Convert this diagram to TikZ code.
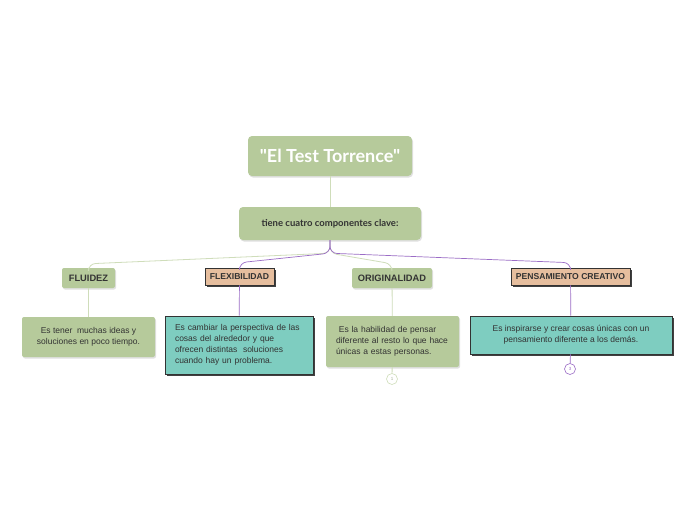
\documentclass[tikz,border=0pt]{standalone}
\usepackage{fontspec}
\setsansfont{Liberation Sans}
\newfontfamily\titlefont{Lato}
\usetikzlibrary{calc,shadows}
\definecolor{sage}{HTML}{B6CA9B}
\definecolor{sageline}{HTML}{CFDDBA}
\definecolor{peach}{HTML}{E6BE9E}
\definecolor{tealbox}{HTML}{7ECDC0}
\definecolor{lilac}{HTML}{9B6DC6}
\definecolor{ink}{HTML}{333333}
\begin{document}
\begin{tikzpicture}[x=1pt,y=-1pt,
  every node/.style={font=\sffamily\fontsize{8.5}{11}\selectfont,text=ink,inner sep=0pt},
  soft/.style={fill=sage,draw=none,rounded corners=4pt,drop shadow={shadow xshift=1pt,shadow yshift=-1.5pt,fill=black!12,opacity=1}},
  hard/.style={draw=ink,line width=.6pt,drop shadow={shadow xshift=2pt,shadow yshift=-2pt,fill=black!75,opacity=1}},
  catg/.style={font=\sffamily\bfseries\fontsize{9.3}{10}\selectfont},
  catp/.style={font=\sffamily\bfseries\fontsize{8.6}{10}\selectfont},
  gline/.style={draw=sageline,line width=.8pt,rounded corners=7pt},
  pline/.style={draw=lilac,line width=.7pt,rounded corners=7pt},
  badge/.style={circle,draw,fill=white,minimum size=11pt,line width=.6pt,font=\sffamily\fontsize{4.5}{4.5}\selectfont}]
\useasboundingbox[fill=white] (0,0) rectangle (696,520);
\node[soft,minimum width=164,minimum height=40,font=\titlefont\bfseries\fontsize{18}{20}\selectfont,text=white] (title) at (330,156) {"El Test Torrence"};
\node[soft,minimum width=182,minimum height=33,font=\titlefont\bfseries\fontsize{9.5}{11}\selectfont] (sub) at (330,223.5) {tiene cuatro componentes clave:};
\node[soft,catg,rounded corners=2pt,minimum width=53,minimum height=20] (flu) at (88.5,278) {FLUIDEZ};
\node[hard,catp,fill=peach,minimum width=69,minimum height=17] (flex) at (239.5,276.5) {FLEXIBILIDAD};
\node[soft,catg,rounded corners=2pt,minimum width=80,minimum height=20] (ori) at (392,278) {ORIGINALIDAD};
\node[hard,catp,fill=peach,minimum width=119,minimum height=17] (pen) at (570.5,276.5) {PENSAMIENTO CREATIVO};
\node[soft,rounded corners=2pt,minimum width=133,minimum height=40,align=center] (dflu) at (88.5,337) {Es tener\ \ muchas ideas y\\soluciones en poco tiempo.};
\node[hard,fill=tealbox,minimum width=148,minimum height=58,text width=128,align=left] (dflex) at (239,345) {Es cambiar la perspectiva de las\\cosas del alrededor y que\\ofrecen distintas\ \ soluciones\\cuando hay un problema.};
\node[soft,rounded corners=2pt,minimum width=133,minimum height=51,text width=113,align=left] (dori) at (392.5,341.5) {\ Es la habilidad de pensar\\diferente al resto lo que hace\\únicas a estas personas.};
\node[hard,fill=tealbox,minimum width=202,minimum height=38,align=center] (dpen) at (571,335) {Es inspirarse y crear cosas únicas con un\\pensamiento diferente a los demás.};
\node[badge,draw=sageline,text=sageline!80!black] (n1) at (392,379) {1};
\node[badge,draw=lilac,text=lilac] (n3) at (570,369) {3};
\draw[gline] (title) -- (sub);
\draw[gline] (sub.south) -- ++(0,13) -- ($(flu.north)+(0,-4)$) -- (flu.north);
\draw[gline] (sub.south) -- ++(0,13) -- ($(ori.north)+(0,-4)$) -- (ori.north);
\draw[pline] (sub.south) -- ++(0,13) -- ($(flex.north)+(0,-5)$) -- (flex.north);
\draw[pline] (sub.south) -- ++(0,13) -- ($(pen.north)+(0,-5)$) -- (pen.north);
\draw[gline] (flu) -- (dflu);
\draw[pline] (flex) -- (dflex);
\draw[gline] (ori) -- (dori);
\draw[pline] (pen) -- (dpen);
\draw[gline] (dori) -- (n1);
\draw[pline] (dpen) -- (n3);
\end{tikzpicture}
\end{document}
